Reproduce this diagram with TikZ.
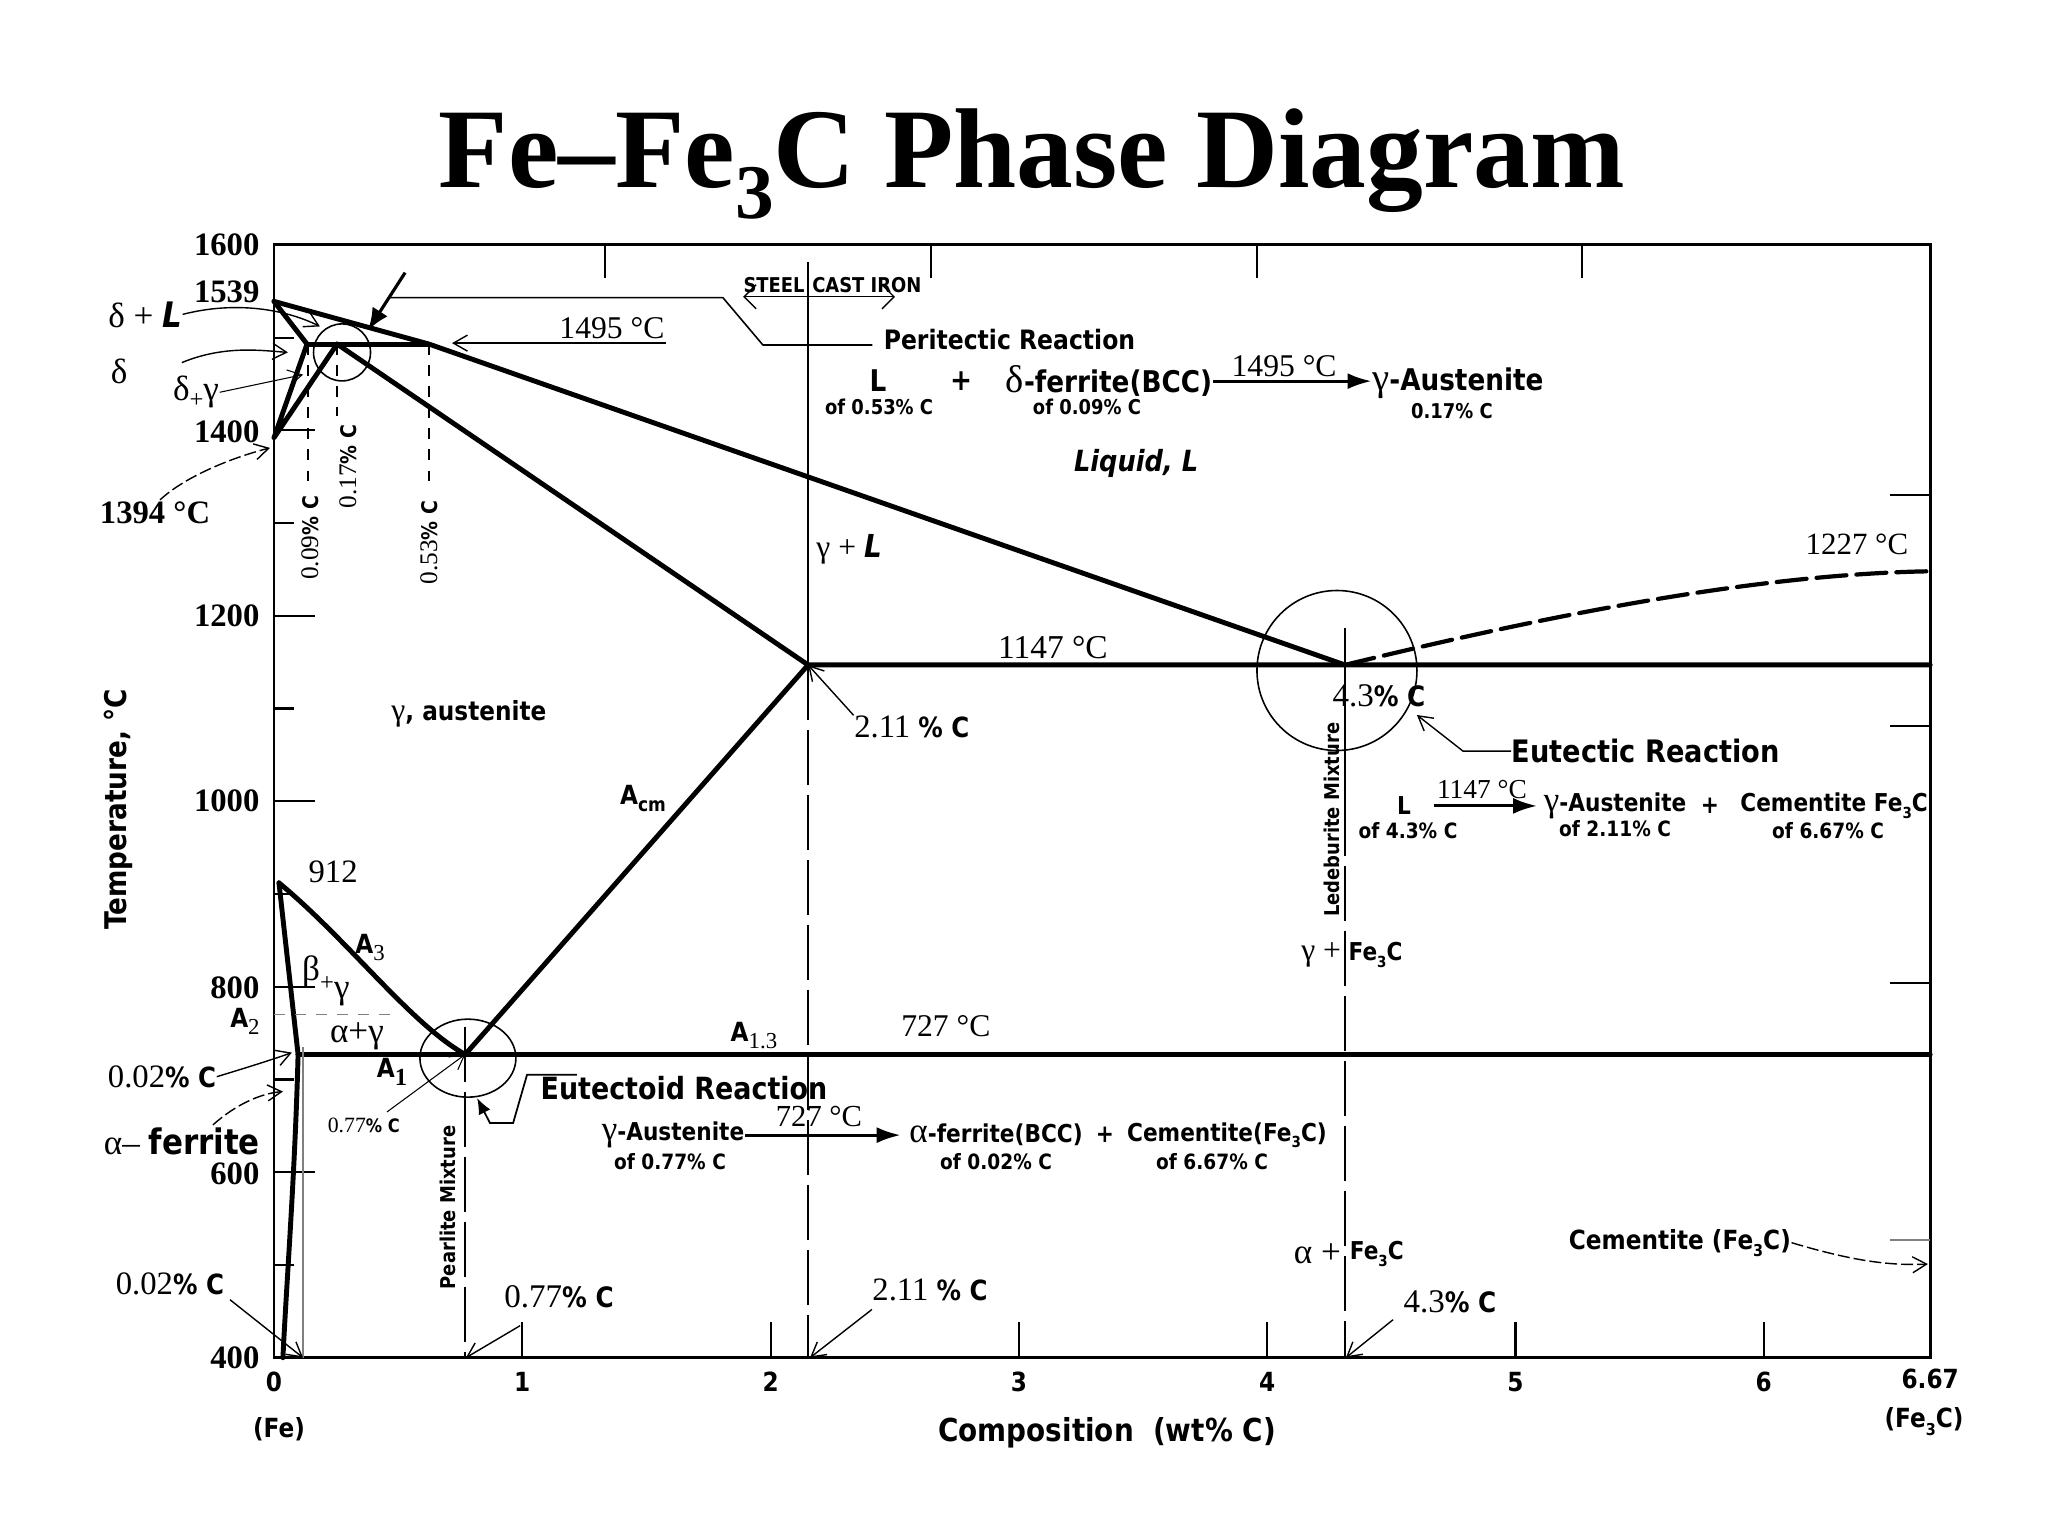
\documentclass[tikz,border=0pt]{standalone}
\usepackage{fontspec}
\usepackage{graphicx}
\setmainfont{Liberation Serif}
\newfontfamily\tah[FakeStretch=0.88]{DejaVu Sans}
\usetikzlibrary{arrows.meta}
\newcommand{\pcC}{\scalebox{0.85}{\tah\bfseries\% C}}
\newcommand{\lowsub}[1]{\raisebox{-0.5ex}{\scalebox{0.62}{#1}}}
\newcommand{\grk}[2]{{\normalfont\fontsize{#1}{#1}\selectfont #2}}
\tikzset{
  phase/.style={line width=1.4pt,line cap=round,line join=round},
  guide/.style={line width=0.45pt},
  gdash/.style={guide,dash pattern=on 5.5mm off 1mm},
  tick/.style={line width=0.6pt},
  ptr/.style={line width=0.4pt,-{Straight Barb[length=1.4mm,width=1.6mm]}},
  ptrd/.style={ptr,dash pattern=on 1.2mm off 0.4mm},
  rxn/.style={line width=0.9pt,-{Latex[length=2.4mm,width=1.6mm]}},
  sans/.style={inner sep=0pt,font=\tah\bfseries\fontsize{#1}{#1}\selectfont},
  serif/.style={inner sep=0pt,font=\fontsize{#1}{#1}\selectfont},
  serifb/.style={inner sep=0pt,font=\bfseries\fontsize{#1}{#1}\selectfont},
}
\begin{document}
\begin{tikzpicture}[x=2.483cm,y=0.09275mm]
\useasboundingbox (-1.1035,208) rectangle (7.1446,1864);
\node[serifb=32.3,anchor=base] (title) at (3.053,1662) {Fe–Fe\raisebox{-0.6ex}{\fontsize{22}{22}\selectfont 3}C Phase Diagram};

% frame and ticks
\draw[line width=0.8pt] (0,400) rectangle (6.67,1600);
\foreach \t in {1400,1200,1000,800,600} \draw[tick] (0,\t) -- ++(0.165,0);
\foreach \t in {1500,1300,1100,900,700,500} \draw[tick] (0,\t) -- ++(0.08,0);
\foreach \t in {1330,1081,804} \draw[tick] (6.67,\t) -- ++(-0.16,0);
\draw[tick,gray] (6.67,527) -- ++(-0.16,0);
\foreach \x in {1.333,2.646,3.959,5.268} \draw[tick] (\x,1600) -- ++(0,-36);
\foreach \x in {1,...,6} \draw[tick] (\x,400) -- ++(0,38);
\foreach \t/\y in {1600/1600,1539/1549,1400/1398,1200/1200,1000/1000,800/799,600/598,400/400}
  \node[serifb=9.3,anchor=east] (t\t) at (-0.056,\y) {\t};
\foreach \x in {0,...,6} \node[sans=7.5] (c\x) at (\x,374) {\x};
\node[sans=7.5] (c667) at (6.67,377) {6.67};
\node[sans=7.5] (fe) at (0.02,323) {(Fe)};
\node[sans=7.5] (fec) at (6.645,331) {(Fe\lowsub{3}C)};
\node[sans=9] (xlab) at (3.355,319) {Composition~ (wt\% C)};
\node[sans=8.5,rotate=90] (ylab) at (-0.628,991) {Temperature, °C};

% phase boundaries
\coordinate (m1539) at (0,1539);
\coordinate (pdel) at (0.133,1493);
\coordinate (pgam) at (0.254,1493);
\coordinate (pliq) at (0.624,1493);
\coordinate (m1394) at (0,1392);
\coordinate (eut) at (4.313,1147);
\coordinate (gmax) at (2.151,1147);
\coordinate (m912) at (0.02,912);
\coordinate (palp) at (0.097,727);
\coordinate (eoid) at (0.77,727);
\draw[phase] (m1539) -- (pliq) -- (eut);
\draw[phase] (m1539) -- (pdel) -- (m1394) -- (pgam);
\draw[phase] (pdel) -- (pliq);
\draw[phase] (pgam) -- (gmax) -- (6.67,1147);
\draw[phase] (gmax) -- (eoid);
\draw[phase] (palp) -- (6.67,727);
\draw[phase] (m912) -- (palp);
\draw[phase] (m912) .. controls (0.3,850) and (0.55,760) .. (eoid);
\draw[phase] (palp) .. controls (0.085,600) and (0.05,480) .. (0.036,400);
\draw[phase,line width=1.2pt,dash pattern=on 3mm off 1mm] (eut) .. controls (5.2,1205) and (6.0,1245) .. (6.67,1248);
\draw[guide,gray] (0.117,735) -- (0.117,400);
\draw[guide,gray,dashed] (0,770) -- (0.49,770);

% composition guides
\draw[guide] (2.151,1581) -- (gmax);
\draw[gdash] (gmax) -- (2.151,400);
\draw[guide] (4.313,1187) -- (4.313,1000);
\draw[gdash] (4.313,1000) -- (4.313,400);
\draw[gdash] (0.769,757) -- (0.769,400);
\draw[guide,dashed] (0.137,1493) -- (0.137,1336);
\draw[guide,dashed] (0.254,1493) -- (0.254,1415);
\draw[guide,dashed] (0.624,1493) -- (0.624,1339);
\draw[guide] (0.274,1484) circle[radius=2.85mm];
\draw[guide] (4.281,1141) circle[radius=8mm];
\draw[guide] (0.781,723) ellipse[x radius=4.8mm,y radius=3.9mm];

% left side labels
\node[serif=10] (dL) at (-0.519,1525) {δ + {\tah\bfseries\itshape L}};
\draw[ptr] (dL.east) .. controls (-0.15,1540) and (0.05,1530) .. (0.185,1512);
\node[serif=10] (dOnly) at (-0.624,1464) {δ};
\coordinate (dTail) at (-0.371,1473);
\draw[ptr] (dTail) .. controls (-0.2,1492) and (-0.05,1486) .. (0.056,1484);
\node[serif=10] (dg) at (-0.314,1441) {δ\raisebox{-0.4ex}{\fontsize{7}{7}\selectfont +}γ};
\draw[ptr,line width=0.3pt] (dg.east) -- (0.117,1460);
\node[serifb=9.3] (t1394) at (-0.479,1311) {1394 °C};
\coordinate (t1394tail) at (-0.459,1325);
\draw[ptrd] (t1394tail) .. controls (-0.35,1352) and (-0.15,1372) .. (-0.016,1381);
\node[serif=7.2,rotate=90] (c009) at (0.145,1284) {0.09\pcC};
\node[serif=7.2,rotate=90] (c017) at (0.298,1361) {0.17\pcC};
\node[serif=7.2,rotate=90] (c053) at (0.624,1279) {0.53\pcC};

% peritectic
\coordinate (perA) at (0.528,1570);
\draw[line width=0.9pt,-{Latex[length=2.2mm,width=1.8mm]}] (perA) -- (0.379,1508);
\node[sans=7.6,anchor=west] (perR) at (2.453,1498) {Peritectic Reaction};
\coordinate (perL) at (2.41,1492);
\draw[guide] (perL) -- (1.969,1492) -- (1.808,1543) -- (0.467,1543);
\node[sans=5.8,anchor=east] (steel) at (2.14,1557) {STEEL};
\node[sans=5.8,anchor=west] (cast) at (2.165,1557) {CAST IRON};
\coordinate (sc1) at (1.889,1544);
\coordinate (sc2) at (2.501,1544);
\draw[line width=0.4pt,{Straight Barb[length=1.2mm]}-{Straight Barb[length=1.2mm]}] (sc1) -- (sc2);
\node[serif=9] (t1495) at (1.361,1510) {1495 °C};
\coordinate (t1495tail) at (1.579,1494);
\draw[ptr] (t1495tail) -- (0.717,1494);

\node[sans=8.5] (rL1) at (2.433,1454) {L};
\node[sans=5.8] (rL1c) at (2.437,1425) {of 0.53\% C};
\node[sans=8.5] (rPlus1) at (2.767,1453) {+};
\node[sans=8.5] (rDel) at (3.363,1453) {\grk{11}{δ}-ferrite(BCC)};
\node[sans=5.8] (rDelc) at (3.274,1425) {of 0.09\% C};
\node[serif=9] (rT1) at (4.068,1469.5) {1495 °C};
\node[sans=8.5] (rGam) at (4.768,1451) {\grk{11}{γ}-Austenite};
\node[sans=5.8] (rGamc) at (4.744,1421) {0.17\% C};
\draw[rxn] (rDel.east) -- (rDel.east -| rGam.west);

% liquid region
\node[sans=8.3] (liq) at (3.472,1364) {\itshape Liquid, L};
\node[serif=9] (gL) at (2.316,1272) {γ + {\tah\bfseries\itshape L}};
\node[serif=9.5] (t1147) at (3.137,1165.5) {1147 °C};
\node[serif=8.8] (t1227) at (6.375,1277) {1227 °C};
\node[serif=9.3] (c211m) at (2.569,1080) {2.11 \pcC};
\draw[ptr] (c211m.north west) -- (gmax);
\node[serif=9.4] (c43m) at (4.45,1114) {4.3\pcC};

% austenite and ferrite region
\node[sans=7.5] (aus) at (0.785,1094) {\grk{9}{γ}, austenite};
\node[sans=7.5] (acm) at (1.486,1003) {A\raisebox{-0.5ex}{\fontsize{5.5}{5.5}\selectfont cm}};
\node[serif=9.3] (t912) at (0.238,924) {912};
\node[sans=7.5] (athree) at (0.387,842) {A\raisebox{-0.5ex}{\normalfont\fontsize{6.5}{6.5}\selectfont 3}};
\node[serif=10] (bg) at (0.209,806) {β\raisebox{-0.6ex}{\fontsize{7}{7}\selectfont +}\raisebox{-1.1ex}{γ}};
\node[sans=7.5] (atwo) at (-0.117,763) {A\raisebox{-0.5ex}{\normalfont\fontsize{6.5}{6.5}\selectfont 2}};
\node[serif=10] (ag) at (0.334,747) {α+γ};
\node[sans=7.5] (aonel) at (0.475,708) {A\raisebox{-0.6ex}{\normalfont\bfseries\fontsize{7}{7}\selectfont 1}};
\node[serif=9.3] (c002a) at (-0.451,703) {0.02\pcC};
\draw[ptr] (c002a.east) .. controls (-0.12,712) and (0.0,722) .. (0.072,729);
\node[serif=10] (afer) at (-0.371,633) {α– {\tah\bfseries ferrite}};
\coordinate (aferTail) at (-0.246,651);
\draw[ptrd] (aferTail) .. controls (-0.15,674) and (-0.05,685) .. (0.036,687);
\node[serif=6.2] (c077s) at (0.362,651) {0.77\pcC};
\coordinate (c077sTail) at (0.455,665);
\draw[ptr,line width=0.3pt] (c077sTail) -- (eoid);

% eutectoid
\node[sans=8.7,anchor=west] (eoidR) at (1.071,691) {Eutectoid Reaction};
\coordinate (eoidBar) at (1.220,705);
\draw[line width=0.5pt,-{Latex[length=1.6mm,width=1.3mm]}] (eoidBar) -- (1.019,705) -- (0.963,653) -- (0.870,653) -- (0.818,680);
\node[serif=9] (t727) at (2.706,757) {727 °C};
\node[sans=7.5] (aonethree) at (1.933,747) {A\raisebox{-0.5ex}{\normalfont\fontsize{6.5}{6.5}\selectfont 1.3}};
\node[sans=5.8,rotate=90] (pearl) at (0.701,562) {Pearlite Mixture};
\node[sans=7] (eGam) at (1.607,640) {\grk{10}{γ}-Austenite};
\node[sans=6] (eGamc) at (1.595,611) {of 0.77\% C};
\node[serif=8.7] (eT) at (2.195,660) {727 °C};
\node[sans=7] (eAlp) at (2.908,640) {\grk{10}{α}-ferrite(BCC)};
\node[sans=6] (eAlpc) at (2.908,611) {of 0.02\% C};
\node[sans=7] (ePlus) at (3.347,640) {+};
\node[sans=7] (eCem) at (3.838,640) {Cementite(Fe\lowsub{3}C)};
\node[sans=6] (eCemc) at (3.778,611) {of 6.67\% C};
\draw[rxn,shorten >=0.8mm] (eGam.east) -- (eGam.east -| eAlp.west);

% eutectic
\node[sans=8.8,anchor=west] (eutR) at (4.982,1054) {Eutectic Reaction};
\draw[ptr] (eutR.west) -- (4.789,1054) -- (4.603,1093);
\node[sans=7] (xL) at (4.551,995) {L};
\node[sans=6] (xLc) at (4.567,968) {of 4.3\% C};
\node[serif=7.8] (xT) at (4.865,1013) {1147 °C};
\node[sans=7] (xGam) at (5.401,995) {\grk{10}{γ}-Austenite};
\node[sans=6] (xGamc) at (5.401,970) {of 2.11\% C};
\node[sans=7] (xPlus) at (5.783,995) {+};
\node[sans=7] (xCem) at (6.283,995) {Cementite Fe\lowsub{3}C};
\node[sans=6] (xCemc) at (6.259,968) {of 6.67\% C};
\draw[rxn,shorten <=2.2mm,shorten >=0.6mm] (xL.east) -- (xL.east -| xGam.west);
\node[sans=5.8,rotate=90] (ledeb) at (4.261,980) {Ledeburite Mixture};
\node[serif=9,anchor=east] (gF) at (4.30,834.5) {γ +};
\node[sans=7,anchor=west] (gFe) at (4.325,834.5) {Fe\lowsub{3}C};
\node[serif=10,anchor=east] (aF) at (4.30,512) {α +};
\node[sans=7,anchor=west] (aFe) at (4.33,512) {Fe\lowsub{3}C};
\node[sans=7.5] (cemB) at (5.662,524) {Cementite (Fe\lowsub{3}C)};
\draw[ptrd] (cemB.east) .. controls (6.35,505) and (6.5,499) .. (6.661,501);

% compositions on the base line
\node[serif=9.4] (c077b) at (1.148,466) {0.77\pcC};
\coordinate (c077bTail) at (0.991,434.5);
\draw[ptr] (c077bTail) -- (0.773,400);
\node[serif=9.3] (c211b) at (2.642,473) {2.11 \pcC};
\coordinate (c211bTail) at (2.408,452);
\draw[ptr] (c211bTail) -- (2.159,400);
\node[serif=9.4] (c43b) at (4.736,460) {4.3\pcC};
\coordinate (c43bTail) at (4.507,441);
\draw[ptr] (c43bTail) -- (4.317,400);
\node[serif=9.3] (c002b) at (-0.419,480) {0.02\pcC};
\coordinate (c002bTail) at (-0.177,462.5);
\draw[ptr] (c002bTail) -- (0.117,400);
\end{tikzpicture}
\end{document}
